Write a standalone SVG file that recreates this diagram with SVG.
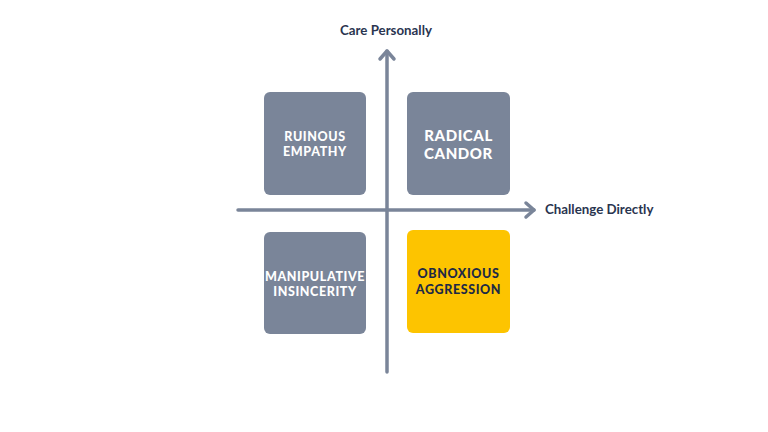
<svg xmlns="http://www.w3.org/2000/svg" width="768" height="432" viewBox="0 0 768 432">
<style>
.box{fill:#7a8599}
.yel{fill:#fdc400}
.ax{stroke:#7a8599;stroke-width:3.5;fill:none;stroke-linecap:round;stroke-linejoin:round}
.lbl{font-family:Lato,"Open Sans",sans-serif;font-weight:900;fill:#ffffff;text-anchor:middle;letter-spacing:0.6px}
.dark{fill:#1e2a45}
.axl{font-family:Lato,"Open Sans",sans-serif;font-weight:700;font-size:13.3px;fill:#2a3550}
</style>
<rect width="768" height="432" fill="#ffffff"/>
<g id="axes">
<line class="ax" x1="387" y1="51" x2="387" y2="372"/>
<polyline class="ax" points="380,59 387,51 394,59"/>
<line class="ax" x1="238" y1="210" x2="534" y2="210"/>
<polyline class="ax" points="526,203 534,210 526,217"/>
</g>
<g id="ruinous-empathy">
<rect class="box" x="264" y="92" width="102" height="103" rx="6"/>
<text class="lbl" font-size="12.5" x="315" y="141">RUINOUS</text>
<text class="lbl" font-size="12.5" x="315" y="156">EMPATHY</text>
</g>
<g id="radical-candor">
<rect class="box" x="407" y="92" width="103" height="103" rx="6"/>
<text class="lbl" font-size="15" x="458.5" y="140.5">RADICAL</text>
<text class="lbl" font-size="15" x="458.5" y="158.5">CANDOR</text>
</g>
<g id="manipulative-insincerity">
<rect class="box" x="264" y="232" width="102" height="102" rx="6"/>
<text class="lbl" font-size="12.5" x="315" y="280.5">MANIPULATIVE</text>
<text class="lbl" font-size="12.5" x="315" y="295.5">INSINCERITY</text>
</g>
<g id="obnoxious-aggression">
<rect class="yel" x="407" y="230" width="103" height="103" rx="6"/>
<text class="lbl dark" font-size="12.5" x="458.5" y="278">OBNOXIOUS</text>
<text class="lbl dark" font-size="12.5" x="458.5" y="293.5">AGGRESSION</text>
</g>
<g id="labels">
<text class="axl" x="386" y="34.5" text-anchor="middle">Care Personally</text>
<text class="axl" x="545" y="214">Challenge Directly</text>
</g>
</svg>
